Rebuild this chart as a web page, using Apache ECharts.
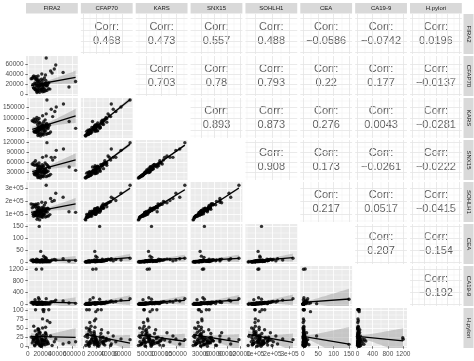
<!DOCTYPE html>
<html><head><meta charset="utf-8">
<script src="https://cdn.jsdelivr.net/npm/echarts@6/dist/echarts.min.js"></script>
<style>html,body{margin:0;padding:0;background:#fff}#c{width:474px;height:361px}</style>
</head><body><div id="c"></div>
<script>
// ---------------- data ----------------
const varNames = ['FIRA2','CFAP70','KARS','SNX15','SOHLH1','CEA','CA19-9','H.pylori'];

const FIRA2 = [21000,16000,12500,21000,14000,24500,18000,7800,13500,12000,
19000,15000,19500,22000,8000,16000,25000,11000,14000,14000,
12000,20000,24000,27000,9000,10500,17500,15000,28000,19000,
13000,26000,20000,15500,19000,9500,21500,16500,6000,11500,
18500,30000,11000,14500,12500,23500,10000,20500,17000,12000,
36000,48000,25000,56000,65000,38000,31000,24000,22500,33000,
8000,19800,13800,22800,17500,4500,26500,9800,18200,21000,
14200,7200,24200,7000,16200,26000,28500,12800,23000,10500];

const CFAP70 = [9500,18000,17000,17000,5200,27000,9000,12500,26000,29000,
7500,16500,19000,5000,36000,3500,16000,21000,36000,8500,
31000,19000,6500,21500,33000,9000,17500,28000,10500,19500,
7000,18000,4500,25000,40000,22000,19000,11500,31000,14500,
29500,9800,35000,15000,2800,21000,8500,27500,17500,6000,
50000,43000,72000,14000,25000,58000,46000,38000,32000,42000,
11800,13000,10000,20000,8000,30500,17000,10200,23500,12800,
22000,19000,17800,34000,16800,7200,22000,26000,9500,29500];

const KARS = [38000,57000,45000,66000,29000,78000,48000,40500,60000,92000,
33000,52000,70000,44000,84000,24000,62000,47000,100000,39000,
74000,55000,31000,64000,96000,42000,58000,82000,35000,61000,
49000,72000,28000,68000,112000,46000,63000,37000,88000,54000,
76000,41000,104000,59000,26000,69000,46500,86000,65500,36000,
130000,163000,180000,87000,57000,150000,140000,120000,94000,108000,
43500,60500,51000,73000,30500,90000,56000,39500,67000,50000,
80000,44500,59500,98000,53000,34500,71000,62500,48500,85000];

const SNX15 = [21000,39000,25000,35000,14500,53000,30000,22000,32000,49000,
18000,36000,45000,26500,50000,12000,30000,27000,57000,20000,
40000,32000,16000,46000,64000,24000,28000,48000,19000,36500,
28500,49000,15500,38000,74000,29500,31000,21500,52000,33500,
52000,23000,54000,34500,13000,37000,26000,49000,44000,17500,
74000,99000,118000,45000,35000,95000,74000,78000,57000,66000,
24500,30500,30500,39000,16800,54000,32500,21000,45000,28000,
47500,25500,31000,59000,31000,18500,42500,43000,29000,51000];

const SOHLH1 = [92000,126000,112000,140000,76000,138000,108000,85000,128000,168000,
84000,104000,132000,99000,158000,58000,125000,116000,180000,90000,
146000,100000,80000,146000,172000,97000,116000,154000,87000,121000,
96000,142000,78000,136000,192000,115000,126000,93000,150000,115000,
148000,98000,176000,119000,62000,128000,92000,155000,130000,88000,
205000,230000,320000,120000,115000,260000,220000,188000,170000,198000,
100000,124000,122000,144000,82000,178000,117000,91000,133000,105000,
151000,100500,122000,174000,103000,86000,139000,127000,107000,160000];

const CEA = [3.2,5.1,2.4,8.5,1.8,4.0,6.3,2.9,3.5,12,
2.1,4.6,5.5,1.5,7.2,0.9,3.8,2.6,9.4,3.1,
4.4,2.0,1.2,6.8,5.9,2.7,45,3.3,1.6,7.8,
4.9,2.3,0.6,150,10.5,3.0,25,1.9,6.1,2.5,
5.3,1.4,8.0,3.6,1.0,20,2.8,4.7,6.6,2.2,
11,14,16,3.9,7.0,9.0,5.0,12.5,6.4,8.7,
3.4,4.1,2.2,5.7,1.1,7.5,3.7,2.0,5.0,6.0,
4.3,1.7,3.2,9.8,2.6,1.3,4.5,3.0,2.4,5.6];

const CA199 = [12,25,8,40,6,18,55,14,30,22,
9,35,16,11,48,4,28,19,65,7,
38,13,5,42,26,17,20,60,10,1200,
15,33,3,170,80,24,45,12,52,1190,
36,9,70,220,2,29,21,44,31,6,
95,110,190,40,30,140,75,58,47,85,
18,27,14,37,8,54,23,150,34,16,
41,10,26,62,20,5,39,32,19,49];

const HPYLORI = [8,22,15,4,12,35,0,18,26,10,
5,40,14,100,20,2,30,9,16,48,
6,75,24,12,3,100,28,45,7,19,
33,11,50,5,17,1,95,38,9,23,
13,65,21,14,27,4,42,100,8,31,
12,6,18,10,12,20,28,37,15,2,
55,20,46,16,3,25,70,13,0,30,
8,22,52,14,35,6,100,19,11,24];

// correlation labels, upper triangle, row by row
const corrLabels = [
  ['0.468','0.473','0.557','0.488','\u22120.0586','\u22120.0742','0.0196'],
  ['0.703','0.78','0.793','0.22','0.177','\u22120.0137'],
  ['0.893','0.873','0.276','0.0043','\u22120.0281'],
  ['0.908','0.173','\u22120.0261','\u22120.0222'],
  ['0.217','0.0517','\u22120.0415'],
  ['0.207','\u22120.154'],
  ['\u22120.192']
];

// axis domains and ticks for each variable
const axisMin = [-2500, -4000, 15000, 6000, 42000, -8, -60, -5];
const axisMax = [68000, 76000, 189000, 126000, 345000, 160, 1300, 105];
const majorTicks = [
  [0,20000,40000,60000],[0,20000,40000,60000],[50000,100000,150000],
  [30000,60000,90000,120000],[100000,200000,300000],[0,50,100,150],
  [0,400,800,1200],[0,25,50,75,100]];
const tickLabels = [
  ['0','20000','40000','60000'],['0','20000','40000','60000'],['50000','100000','150000'],
  ['30000','60000','90000','120000'],['1e+05','2e+05','3e+05'],['0','50','100','150'],
  ['0','400','800','1200'],['0','25','50','75','100']];
const minorTicks = [
  [10000,30000,50000],[10000,30000,50000],[25000,75000,125000,175000],
  [15000,45000,75000,105000],[50000,150000,250000],[25,75,125],
  [200,600,1000],[12.5,37.5,62.5,87.5]];

// ---------------- layout ----------------
const vars = [FIRA2, CFAP70, KARS, SNX15, SOHLH1, CEA, CA199, HPYLORI];
const NV = vars.length;
const L0 = 26, STEPX = 54.86, W = 51.8, T0 = 14, STEPY = 42, H = 40;
const FONT = '"Liberation Sans", Arial, sans-serif';
const cellX = j => L0 + STEPX * j;
const cellY = i => T0 + STEPY * i;

function labelFor(v, val) {
  const t = majorTicks[v];
  for (let k = 0; k < t.length; k++) if (Math.abs(t[k] - val) < 1e-6 * (Math.abs(t[k]) + 1)) return tickLabels[v][k];
  return '';
}
const evenTicks = v => majorTicks[v].filter((_, k) => k % 2 === 0);
const oddTicks = v => majorTicks[v].filter((_, k) => k % 2 === 1);

function labelStyle(v, showLab, values) {
  return { show: showLab, customValues: values, formatter: val => labelFor(v, val),
    hideOverlap: false, interval: 0, showMinLabel: true, showMaxLabel: true,
    fontSize: 6.5, color: '#4d4d4d', margin: 2.5, fontFamily: FONT };
}
// main axis: major grid lines, ticks, every other label
function axisMain(v, g, showLab, col, isX) {
  return {
    type: 'value', gridIndex: g, min: axisMin[v], max: axisMax[v],
    position: isX ? 'bottom' : 'left',
    axisLine: { show: false },
    axisTick: { show: showLab, length: 2.5, customValues: majorTicks[v], lineStyle: { color: '#333', width: 0.7 } },
    axisLabel: labelStyle(v, showLab, evenTicks(v)),
    splitLine: { show: true, lineStyle: { color: col, width: 0.8 } },
    minorTick: { show: false }, minorSplitLine: { show: false }
  };
}
// companion axis: minor grid lines, remaining labels
function axisMinor(v, g, showLab, col, isX) {
  return {
    type: 'value', gridIndex: g, min: axisMin[v], max: axisMax[v],
    position: isX ? 'bottom' : 'left',
    axisLine: { show: false },
    axisTick: { show: false, customValues: minorTicks[v] },
    axisLabel: labelStyle(v, showLab, oddTicks(v)),
    splitLine: { show: true, lineStyle: { color: col, width: 0.45 } }
  };
}

// least-squares fit with 95% confidence band (as geom_smooth(method = "lm"))
function lmFit(x, y) {
  const n = x.length;
  let mx = 0, my = 0;
  for (let k = 0; k < n; k++) { mx += x[k]; my += y[k]; }
  mx /= n; my /= n;
  let sxx = 0, sxy = 0;
  for (let k = 0; k < n; k++) { sxx += (x[k] - mx) ** 2; sxy += (x[k] - mx) * (y[k] - my); }
  const b = sxy / sxx, a = my - b * mx;
  let sse = 0;
  for (let k = 0; k < n; k++) sse += (y[k] - a - b * x[k]) ** 2;
  const s = Math.sqrt(sse / (n - 2)), t = 1.99;
  const x0 = Math.min(...x), x1 = Math.max(...x);
  const band = [];
  const steps = 60;
  for (let q = 0; q <= steps; q++) {
    const xv = x0 + (x1 - x0) * q / steps;
    const f = a + b * xv;
    const se = s * Math.sqrt(1 / n + (xv - mx) ** 2 / sxx);
    band.push([xv, f - t * se, f + t * se]);
  }
  return { line: [[x0, a + b * x0], [x1, a + b * x1]], band };
}

const grids = [], xAxes = [], yAxes = [], series = [], graphics = [];

for (let i = 0; i < NV; i++) {
  for (let j = 0; j < NV; j++) {
    if (i === j) continue;
    const lower = i > j;
    const g = grids.length;
    grids.push({ left: cellX(j), top: cellY(i), width: W, height: H, show: lower,
      backgroundColor: '#ebebeb', borderWidth: 0, containLabel: false });
    const majCol = lower ? '#ffffff' : '#e4e4e4';
    const minCol = lower ? '#ffffff' : '#eeeeee';
    const showX = lower && i === NV - 1, showY = lower && j === 0;
    const xa = xAxes.length;
    xAxes.push(axisMain(j, g, showX, majCol, true));
    xAxes.push(axisMinor(j, g, showX, minCol, true));
    const ya = yAxes.length;
    yAxes.push(axisMain(i, g, showY, majCol, false));
    yAxes.push(axisMinor(i, g, showY, minCol, false));
    if (lower) {
      const xs = vars[j], ys = vars[i];
      const pts = xs.map((v, k) => [v, ys[k]]);
      series.push({ type: 'scatter', xAxisIndex: xa, yAxisIndex: ya, data: pts, symbolSize: 3.4,
        itemStyle: { color: '#000' }, silent: true, animation: false });
      const fit = lmFit(xs, ys);
      const band = fit.band;
      series.push({ type: 'custom', xAxisIndex: xa, yAxisIndex: ya, clip: true, silent: true,
        data: band, encode: { x: 0, y: [1, 2] },
        renderItem: (params, api) => {
          if (params.dataIndex !== 0) return null;
          const p = [];
          for (let k = 0; k < band.length; k++) p.push(api.coord([band[k][0], band[k][1]]));
          for (let k = band.length - 1; k >= 0; k--) p.push(api.coord([band[k][0], band[k][2]]));
          return { type: 'polygon', shape: { points: p }, style: { fill: 'rgba(153,153,153,0.45)' } };
        } });
      series.push({ type: 'line', xAxisIndex: xa, yAxisIndex: ya, data: fit.line, symbol: 'none',
        lineStyle: { color: '#000', width: 1.3 }, silent: true, animation: false, clip: true });
    } else {
      const cx = cellX(j) + W / 2, cy = cellY(i) + H / 2;
      graphics.push({ type: 'text', x: cx, y: cy - 7.5, silent: true,
        style: { text: 'Corr:', fill: '#595959', fontSize: 11, fontFamily: FONT, align: 'center', verticalAlign: 'middle' } });
      graphics.push({ type: 'text', x: cx, y: cy + 7, silent: true,
        style: { text: corrLabels[i][j - i - 1], fill: '#595959', fontSize: 11, fontFamily: FONT, align: 'center', verticalAlign: 'middle' } });
    }
  }
}

// strips
varNames.forEach((name, j) => {
  graphics.push({ type: 'rect', silent: true, shape: { x: cellX(j), y: 3, width: W, height: 10.5 }, style: { fill: '#d9d9d9' } });
  graphics.push({ type: 'text', silent: true, x: cellX(j) + W / 2, y: 8.3,
    style: { text: name, fill: '#1a1a1a', fontSize: 6, fontFamily: FONT, align: 'center', verticalAlign: 'middle' } });
  graphics.push({ type: 'rect', silent: true, shape: { x: 463.5, y: cellY(j), width: 10, height: H }, style: { fill: '#d9d9d9' } });
  graphics.push({ type: 'text', silent: true, x: 468.5, y: cellY(j) + H / 2, rotation: -Math.PI / 2,
    style: { text: name, fill: '#1a1a1a', fontSize: 6, fontFamily: FONT, align: 'center', verticalAlign: 'middle' } });
});

const chart = echarts.init(document.getElementById('c'), null, { renderer: 'canvas' });
chart.setOption({
  animation: false,
  backgroundColor: '#ffffff',
  grid: grids, xAxis: xAxes, yAxis: yAxes, series: series, graphic: graphics
});
</script>
</body></html>
